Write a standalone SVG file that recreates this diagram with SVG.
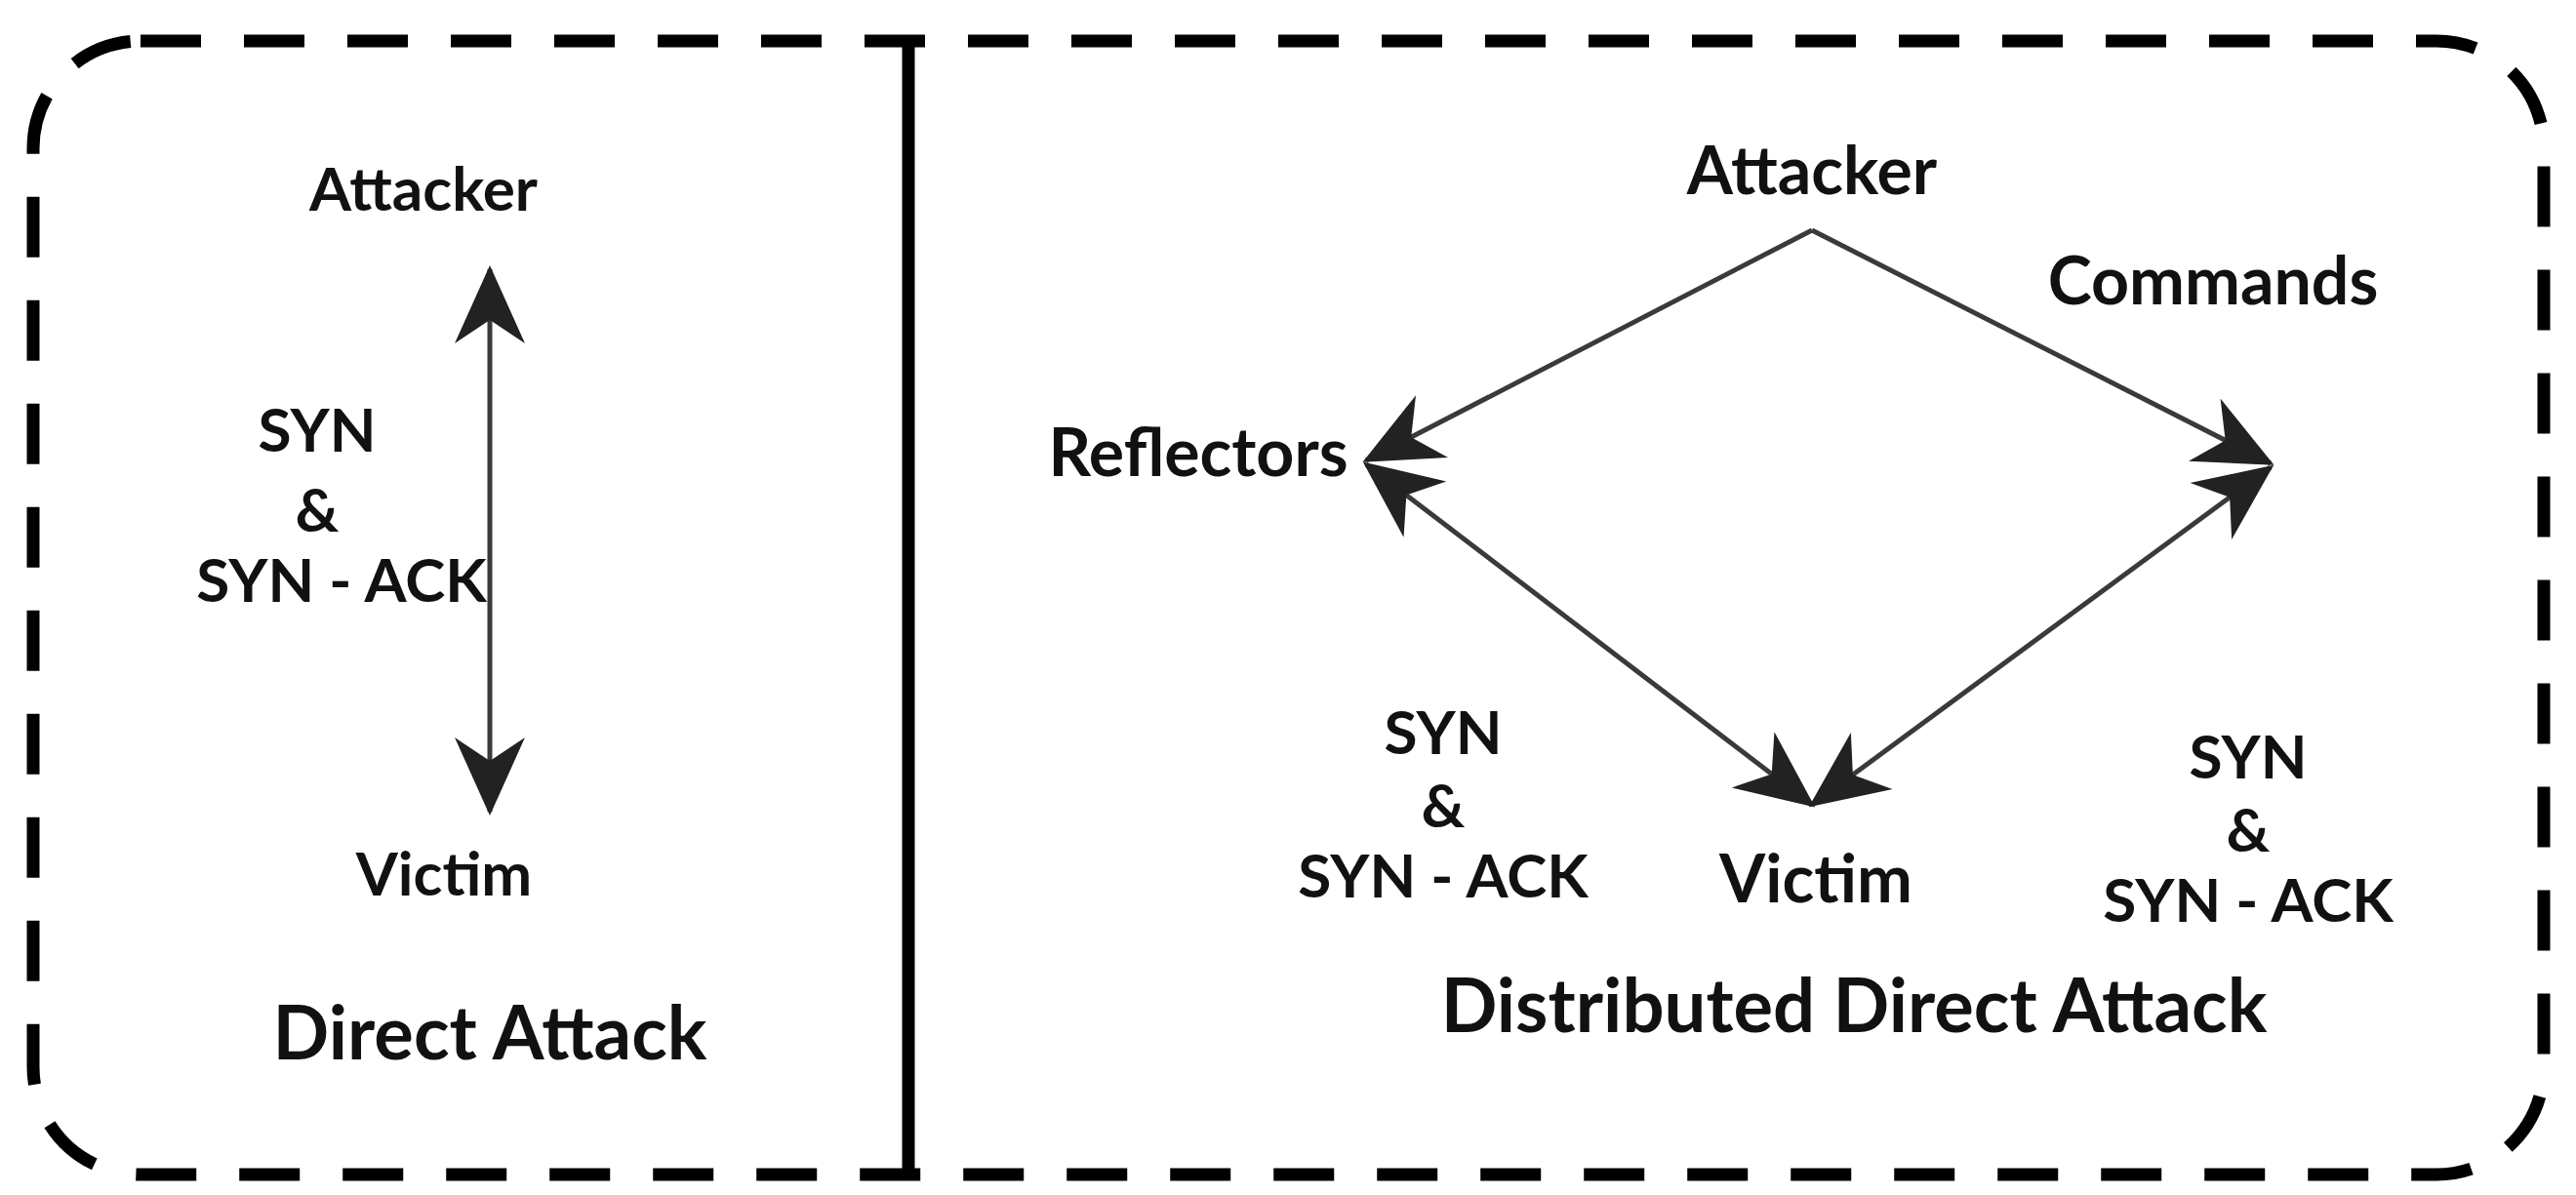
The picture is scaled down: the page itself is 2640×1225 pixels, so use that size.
<svg xmlns="http://www.w3.org/2000/svg" width="2640" height="1225" viewBox="0 0 2640 1225">
<style>
text{font-family:Lato,"Open Sans","Liberation Sans",sans-serif;fill:#111;text-anchor:middle;font-weight:700}
.n{font-size:62px}
.b{font-size:68px}
.t{font-size:76px}
.c{stroke:#3a3a3a;stroke-width:5;fill:none}
</style>
<defs>
<marker id="ah" viewBox="0 0 20 20" refX="19" refY="10" markerWidth="16" markerHeight="16" markerUnits="strokeWidth" orient="auto-start-reverse">
<path d="M0,1 L20,10 L0,19 L6,10 Z" fill="#222"/>
</marker>
</defs>
<rect id="frame" x="34" y="42" width="2573" height="1162" rx="110" fill="none" stroke="#000" stroke-width="13" stroke-dasharray="62,44"/>
<line id="divider" x1="931" y1="42" x2="931" y2="1204" stroke="#000" stroke-width="13"/>
<g id="connectors">
<line class="c" x1="502" y1="276" x2="502" y2="832" marker-start="url(#ah)" marker-end="url(#ah)"/>
<line class="c" x1="1857" y1="236" x2="1400" y2="472" marker-end="url(#ah)"/>
<line class="c" x1="1857" y1="236" x2="2327" y2="475" marker-end="url(#ah)"/>
<line class="c" x1="1400" y1="476" x2="1857" y2="825" marker-start="url(#ah)" marker-end="url(#ah)"/>
<line class="c" x1="2327" y1="479" x2="1857" y2="825" marker-start="url(#ah)" marker-end="url(#ah)"/>
</g>
<g id="left-attacker"><text class="n" x="434" y="216">Attacker</text></g>
<g id="left-label"><text class="n" x="325" y="463">SYN</text><text class="n" x="325" y="545">&amp;</text><text class="n" x="350" y="617">SYN - ACK</text></g>
<g id="left-victim"><text class="n" x="455" y="918">Victim</text></g>
<g id="left-title"><text class="t" x="502" y="1086">Direct Attack</text></g>
<g id="right-attacker"><text class="b" x="1857" y="199">Attacker</text></g>
<g id="commands"><text class="b" x="2268" y="312">Commands</text></g>
<g id="reflectors"><text class="b" x="1228" y="488">Reflectors</text></g>
<g id="syn-left"><text class="n" x="1479" y="773">SYN</text><text class="n" x="1479" y="848">&amp;</text><text class="n" x="1479" y="920">SYN - ACK</text></g>
<g id="right-victim"><text class="b" x="1861" y="925">Victim</text></g>
<g id="syn-right"><text class="n" x="2304" y="798">SYN</text><text class="n" x="2304" y="873">&amp;</text><text class="n" x="2304" y="945">SYN - ACK</text></g>
<g id="right-title"><text class="t" x="1900" y="1058">Distributed Direct Attack</text></g>
</svg>
